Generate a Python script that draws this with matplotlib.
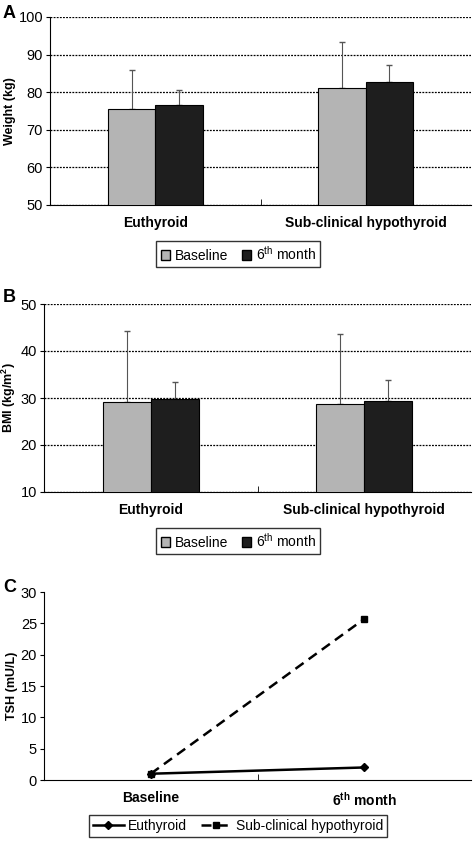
import matplotlib
matplotlib.use("Agg")
import matplotlib.pyplot as plt
from matplotlib.patches import Patch
from matplotlib.lines import Line2D

plt.rcParams["font.family"] = ["Liberation Sans", "DejaVu Sans"]
plt.rcParams["mathtext.default"] = "regular"

groups = ["Euthyroid", "Sub-clinical hypothyroid"]
weight_base = [75.5, 81.0]
weight_base_sd = [10.3, 12.3]
weight_6m = [76.5, 82.8]
weight_6m_sd = [4.0, 4.5]
bmi_base = [29.2, 28.8]
bmi_base_sd = [15.0, 14.8]
bmi_6m = [29.7, 29.3]
bmi_6m_sd = [3.8, 4.6]
tsh_times = ["Baseline", "6$^{th}$ month"]
tsh_eu = [1.0, 2.0]
tsh_sch = [1.0, 25.7]

fig = plt.figure(figsize=(4.74, 8.42), dpi=100)
W, H = 474, 842

def add_ax(x0, y0, x1, y1):
    return fig.add_axes([x0 / W, 1 - y1 / H, (x1 - x0) / W, (y1 - y0) / H])

def style_axis(ax, ylabel):
    ax.set_xlim(-0.5, 1.5)
    ax.set_xticks([0.5], minor=True)
    ax.tick_params(axis="x", which="major", length=0, pad=8)
    ax.tick_params(axis="x", which="minor", length=4, direction="in")
    ax.tick_params(axis="y", labelsize=10.5, length=3, pad=2)
    for s in ["top", "right"]:
        ax.spines[s].set_visible(False)
    ax.set_ylabel(ylabel, fontweight="bold", fontsize=9, labelpad=2)

def bar_panel(ax, base, bsd, m6, msd, ylim, ylabel, leg_y, letter, letter_y):
    x = [0, 1]
    bw = 0.225
    xb = [i - bw / 2 for i in x]
    xm = [i + bw / 2 for i in x]
    ax.bar(xb, base, bw, color="#b4b4b4", edgecolor="black", linewidth=0.8, zorder=3)
    ax.bar(xm, m6, bw, color="#1e1e1e", edgecolor="black", linewidth=0.8, zorder=3)
    ax.errorbar(xb, base, yerr=[[0, 0], bsd], fmt="none", ecolor="#555555", elinewidth=0.8, capsize=2.5, zorder=2)
    ax.errorbar(xm, m6, yerr=[[0, 0], msd], fmt="none", ecolor="#555555", elinewidth=0.8, capsize=2.5, zorder=2)
    ax.set_ylim(*ylim)
    ax.set_yticks(range(ylim[0], ylim[1] + 1, 10))
    ax.yaxis.grid(True, linestyle=(0, (1.5, 1)), color="black", linewidth=0.9)
    ax.set_axisbelow(True)
    ax.set_xticks(x)
    ax.set_xticklabels(groups, fontweight="bold", fontsize=10)
    style_axis(ax, ylabel)
    handles = [Patch(facecolor="#b4b4b4", edgecolor="black"), Patch(facecolor="#1e1e1e", edgecolor="black")]
    fig.legend(handles, ["Baseline", "6$^{th}$ month"], loc="center", bbox_to_anchor=(238 / W, 1 - leg_y / H),
               ncol=2, frameon=True, fancybox=False, edgecolor="black", fontsize=10,
               handlelength=0.7, handleheight=0.7, handletextpad=0.3, columnspacing=1.0, borderpad=0.3)
    fig.text(3 / W, 1 - letter_y / H, letter, fontsize=13, fontweight="bold", va="center")

axA = add_ax(50, 17, 471, 205)
bar_panel(axA, weight_base, weight_base_sd, weight_6m, weight_6m_sd, (50, 100), "Weight (kg)", 254, "A", 14)
axB = add_ax(44, 304, 471, 492)
bar_panel(axB, bmi_base, bmi_base_sd, bmi_6m, bmi_6m_sd, (10, 50), "BMI (kg/m$^2$)", 541, "B", 297)

axC = add_ax(44, 592, 471, 780)
xc = [0, 1]
axC.plot(xc, tsh_eu, color="black", linewidth=1.8, marker="D", markersize=4)
axC.plot(xc, tsh_sch, color="black", linewidth=1.8, linestyle=(0, (4, 2.5)), marker="s", markersize=4)
axC.set_ylim(0, 30)
axC.set_yticks(range(0, 31, 5))
axC.set_xticks(xc)
axC.set_xticklabels(tsh_times, fontweight="bold", fontsize=10)
style_axis(axC, "TSH (mU/L)")
handles = [Line2D([], [], color="black", linewidth=1.8, marker="D", markersize=4),
           Line2D([], [], color="black", linewidth=1.8, linestyle=(0, (4, 2.5)), marker="s", markersize=4)]
fig.legend(handles, ["Euthyroid", "Sub-clinical hypothyroid"], loc="center", bbox_to_anchor=(238 / W, 1 - 826 / H),
           ncol=2, frameon=True, fancybox=False, edgecolor="black", fontsize=10,
           handlelength=2.2, handletextpad=0.3, columnspacing=1.0, borderpad=0.3)
fig.text(3 / W, 1 - 588 / H, "C", fontsize=13, fontweight="bold", va="center")

fig.savefig("out.png", dpi=100)
